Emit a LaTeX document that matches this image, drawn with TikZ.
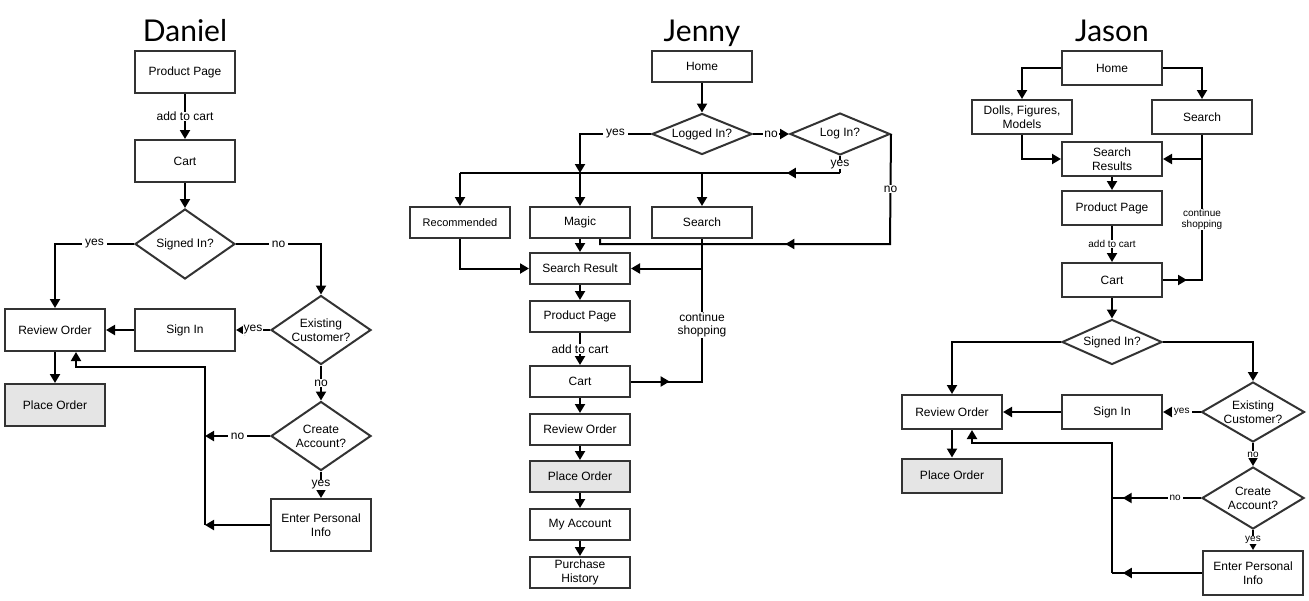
\documentclass[tikz,border=0pt]{standalone}
\usepackage{fontspec}
\setmainfont{Liberation Sans}
\newfontfamily\titlefont{Lato}
\usepackage{tikz}
\usetikzlibrary{arrows.meta,shapes.geometric,decorations.markings}
\definecolor{LGray}{rgb}{0.9,0.9,0.9}
\definecolor{DGray}{rgb}{0.2,0.2,0.2}
\tikzset{->-/.style={decoration={
  markings,
  mark=at position #1 with {\arrow{Triangle[length=9pt,width=10pt]}}},postaction={decorate}}}
\tikzset{
  box/.style={draw=DGray,line width=2pt,minimum width=100pt,minimum height=31pt,
    inner sep=1pt,align=center,font=\fontsize{12}{14}\selectfont},
  ask/.style={diamond,draw=DGray,line width=2pt,inner sep=-8pt,align=center,
    font=\fontsize{12}{14}\selectfont},
  wire/.style={line width=2pt},
  flow/.style={wire,-{Triangle[length=9pt,width=10pt]}},
  lbl/.style={fill=white,inner xsep=3pt,inner ysep=0.5pt,align=center,font=\fontsize{12}{13}\selectfont},
  slbl/.style={lbl,inner xsep=2pt,font=\fontsize{10}{11}\selectfont},
  person/.style={anchor=base,font=\titlefont\fontsize{30}{30}\selectfont}
}

\begin{document}
\begin{tikzpicture}[x=1pt,y=-1pt]
\useasboundingbox (0,0) rectangle (1309,600);

% Daniel
\node[person] (dName) at (185,41) {Daniel};
\node[box,minimum height=42pt] (dProduct) at (185,72) {Product Page};
\node[box,minimum height=42pt] (dCart) at (185,161) {Cart};
\node[ask,minimum width=100pt,minimum height=70pt] (dSigned) at (185,244) {Signed In?};
\node[box,minimum height=42pt] (dReview) at (55,330) {Review Order};
\node[box,minimum height=42pt] (dSignIn) at (185,330) {Sign In};
\node[ask,minimum width=100pt,minimum height=69pt] (dExisting) at (321,330) {Existing\\Customer?};
\node[box,minimum height=42pt,fill=LGray] (dPlace) at (55,405) {Place Order};
\node[ask,minimum width=100pt,minimum height=69pt] (dCreate) at (321,436) {Create\\Account?};
\node[box,minimum height=52pt] (dInfo) at (321,525) {Enter Personal\\Info};
\coordinate (dBus) at (205,367);
\coordinate (dBend) at (76,367);

\draw[flow] (dProduct) -- node[lbl] {add to cart} (dCart);
\draw[flow] (dCart) -- (dSigned);
\draw[flow] (dSigned) -| node[lbl,pos=.25] {yes} (dReview);
\draw[flow] (dSigned) -| node[lbl,pos=.25] {no} (dExisting);
\draw[flow] (dExisting) -- node[lbl,inner xsep=1pt] {yes} (dSignIn);
\draw[flow] (dSignIn) -- (dReview);
\draw[flow] (dReview) -- (dPlace);
\draw[flow] (dExisting) -- node[lbl] {no} (dCreate);
\draw[flow] (dCreate.west) -- node[lbl] {no} (dCreate.west -| dBus);
\draw[flow] (dCreate) -- node[lbl] {yes} (dInfo);
\draw[flow] (dInfo.west) -- (dInfo.west -| dBus);
\draw[flow] (dInfo.west -| dBus) -- (dBus) -- (dBend) -- (dBend |- dReview.south);

% Jenny
\node[person] (jName) at (702,41) {Jenny};
\node[box] (jHome) at (702,66.5) {Home};
\node[ask,minimum width=100pt,minimum height=41pt] (jLogged) at (702,134) {Logged In?};
\node[ask,minimum width=100pt,minimum height=42pt] (jLogIn) at (840,134) {Log In?};
\node[box,font=\fontsize{11}{13}\selectfont] (jRecommended) at (460,222.5) {Recommended};
\node[box] (jMagic) at (580,222.5) {Magic};
\node[box] (jSearch) at (702,222.5) {Search};
\node[box] (jResult) at (580,268.5) {Search Result};
\node[box] (jProduct) at (580,316.5) {Product Page};
\node[box] (jCart) at (580,381.5) {Cart};
\node[box] (jReview) at (580,429.5) {Review Order};
\node[box,fill=LGray] (jPlace) at (580,476.5) {Place Order};
\node[box] (jAccount) at (580,524.5) {My Account};
\node[box] (jHistory) at (580,572.5) {Purchase\\History};
\coordinate (jBar) at (580,173);
\coordinate (jYes) at (840,173);
\coordinate (jNo) at (890,244);
\coordinate (jNoEnd) at (600,244);

\draw[flow] (jHome) -- (jLogged);
\draw[flow] (jLogged.west) -| node[lbl,pos=.25] {yes} (jBar);
\draw[flow] (jLogged.east) -- node[lbl,inner xsep=1pt] {no} (jLogIn.west);
\draw[wire] (jLogIn.south) -- node[lbl] {yes} (jYes);
\draw[wire,->-=.14] (jYes) -- (jRecommended.north |- jBar);
\draw[flow] (jRecommended.north |- jBar) -- (jRecommended);
\draw[flow] (jBar) -- (jMagic);
\draw[flow] (jSearch.north |- jBar) -- (jSearch);
\draw[wire,->-=.53] (jLogIn.east) -- node[lbl] {no} (jNo) -- (jNoEnd) -- (jNoEnd |- jMagic.south);
\draw[flow] (jMagic) -- (jResult);
\draw[flow] (jRecommended) |- (jResult);
\draw[flow] (jSearch) |- (jResult);
\draw[flow] (jResult) -- (jProduct);
\draw[flow] (jProduct) -- node[lbl] {add to cart} (jCart);
\draw[wire,->-=.21] (jCart) -| node[lbl,pos=.75] {continue\\shopping} (jSearch.south |- jResult);
\draw[flow] (jCart) -- (jReview);
\draw[flow] (jReview) -- (jPlace);
\draw[flow] (jPlace) -- (jAccount);
\draw[flow] (jAccount) -- (jHistory);

% Jason
\node[person] (sName) at (1112,41) {Jason};
\node[box,minimum height=34pt] (sHome) at (1112,68) {Home};
\node[box,minimum height=34pt] (sDolls) at (1022,117) {Dolls, Figures,\\Models};
\node[box,minimum height=34pt] (sSearch) at (1202,117) {Search};
\node[box,minimum height=34pt] (sResults) at (1112,159) {Search\\Results};
\node[box,minimum height=34pt] (sProduct) at (1112,208) {Product Page};
\node[box,minimum height=34pt] (sCart) at (1112,280) {Cart};
\node[ask,minimum width=100pt,minimum height=45pt] (sSigned) at (1112,342) {Signed In?};
\node[box,minimum height=34pt] (sReview) at (952,412) {Review Order};
\node[box,minimum height=34pt] (sSignIn) at (1112,412) {Sign In};
\node[ask,minimum width=103pt,minimum height=60pt] (sExisting) at (1253,412) {Existing\\Customer?};
\node[box,minimum height=34pt,fill=LGray] (sPlace) at (952,475.5) {Place Order};
\node[ask,minimum width=102pt,minimum height=62pt] (sCreate) at (1253,498) {Create\\Account?};
\node[box,minimum height=44pt] (sInfo) at (1253,573) {Enter Personal\\Info};
\coordinate (sBus) at (1112,443);
\coordinate (sBend) at (972,443);

\draw[flow] (sHome) -| (sDolls);
\draw[flow] (sHome) -| (sSearch);
\draw[flow] (sDolls) |- (sResults);
\draw[flow] (sSearch) |- (sResults);
\draw[flow] (sResults) -- (sProduct);
\draw[flow] (sProduct) -- node[slbl] {add to cart} (sCart);
\draw[wire,->-=.15] (sCart) -| node[slbl,pos=.75] {continue\\shopping} (sSearch.south |- sResults);
\draw[flow] (sCart) -- (sSigned);
\draw[flow] (sSigned) -| (sReview);
\draw[flow] (sSigned) -| (sExisting);
\draw[flow] (sExisting) -- node[slbl] {yes} (sSignIn);
\draw[flow] (sSignIn) -- (sReview);
\draw[flow] (sReview) -- (sPlace);
\draw[flow] (sExisting) -- node[slbl] {no} (sCreate);
\draw[wire,->-=.88] (sCreate.west) -- node[slbl,pos=.29] {no} (sCreate.west -| sBus);
\draw[flow] (sCreate) -- node[slbl] {yes} (sInfo);
\draw[wire,->-=.88] (sInfo.west) -- (sInfo.west -| sBus);
\draw[flow] (sInfo.west -| sBus) -- (sBus) -- (sBend) -- (sBend |- sReview.south);
\end{tikzpicture}
\end{document}
